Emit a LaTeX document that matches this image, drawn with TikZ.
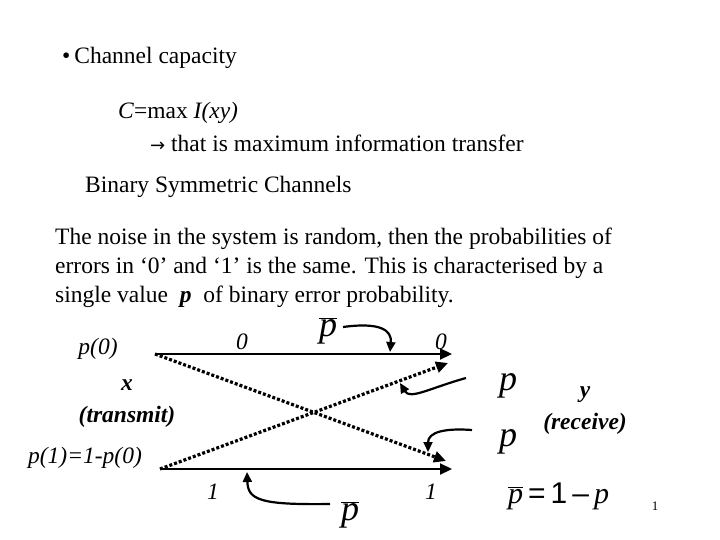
\documentclass[tikz,border=0pt]{standalone}
\usepackage{fontspec}
\setmainfont{Liberation Serif}
\newfontfamily\djv{DejaVu Sans}
\newfontfamily\lsans{Liberation Sans}
\usetikzlibrary{arrows.meta}
\newcommand{\pbar}{\ensuremath{\overline{\hbox{\textit{p}}}}}
\begin{document}
\begin{tikzpicture}[x=1pt,y=-1pt,
  txt/.style={anchor=west,inner sep=0,font=\fontsize{23.5}{28}\selectfont},
  lab/.style={inner sep=0,font=\fontsize{23.5}{28}\selectfont\itshape},
  pl/.style={inner sep=0,font=\fontsize{36}{40}\selectfont},
  solidarr/.style={line width=2.2pt,-{Triangle[length=12pt,width=11pt]}},
  dotarr/.style={line width=3.2pt,dash pattern=on 3pt off 2pt,-{Triangle[length=12pt,width=11pt]}},
  curv/.style={line width=2.2pt,-{Triangle[length=10pt,width=9pt]}}]
\useasboundingbox (0,0) rectangle (720,540);
\node[txt] (t1) at (62,58) {\textbullet\,Channel capacity};
\node[txt] (t2) at (118,113) {\textit{C}=max \textit{I(xy)}};
\node[txt] (t3) at (150,143) {{\djv\fontsize{18}{20}\selectfont →} that is maximum information transfer};
\node[txt] (t4) at (85,187) {Binary Symmetric Channels};
\node[txt] (t5) at (55,239) {The noise in the system is random, then the probabilities of};
\node[txt] (t6) at (55,268) {errors in ‘0’ and ‘1’ is the same. This is characterised by a};
\node[txt] (t7) at (55,297) {single value \ \textbf{\textit{p}} \ of binary error probability.};
\node[lab] (p0) at (98,349) {p(0)};
\node[lab] (p1) at (85,458) {p(1)=1-p(0)};
\node[lab,align=center,font=\fontsize{23.5}{32}\selectfont\bfseries\itshape] (x) at (127,404) {x\\(transmit)};
\node[lab,align=center,font=\fontsize{23.5}{32}\selectfont\bfseries\itshape] (y) at (585,411) {y\\(receive)};
\coordinate (a0) at (155,354);
\coordinate (b0) at (452,354);
\coordinate (a1) at (160,469);
\coordinate (b1) at (452,469);
\node[lab] (l0a) at (242,342) {0};
\node[lab] (l0b) at (441,342) {0};
\node[lab] (l1a) at (213,492) {1};
\node[lab] (l1b) at (431,492) {1};
\draw[solidarr] (a0) -- (b0);
\draw[solidarr] (a1) -- (b1);
\draw[dotarr] (a0) -- (446,461);
\draw[dotarr] (a1) -- (448,363);
\node[pl] (pb1) at (328,331) {\pbar};
\node[pl] (p2) at (508,386) {\textit{p}};
\node[pl] (p3) at (508,442) {\textit{p}};
\node[pl] (pb2) at (350,515) {\pbar};
\node[pl,anchor=west,font=\fontsize{30}{34}\selectfont] (eq) at (508,496) {\pbar{\lsans\,=\,1\,–\,}\textit{p}};
\node[inner sep=0,font=\fontsize{13}{14}\selectfont] (pg) at (655,506) {1};
\coordinate (c1) at (390,352);
\coordinate (c2) at (400,383);
\coordinate (c3) at (428,452);
\coordinate (c4) at (247,472);
\draw[curv] (343,327) .. controls (380,322) and (392,330) .. (c1);
\draw[curv] (466,378) .. controls (430,388) and (410,400) .. (c2);
\draw[curv] (472,430) .. controls (445,428) and (428,432) .. (c3);
\draw[curv] (330,504) .. controls (260,505) and (248,500) .. (c4);
\end{tikzpicture}
\end{document}
